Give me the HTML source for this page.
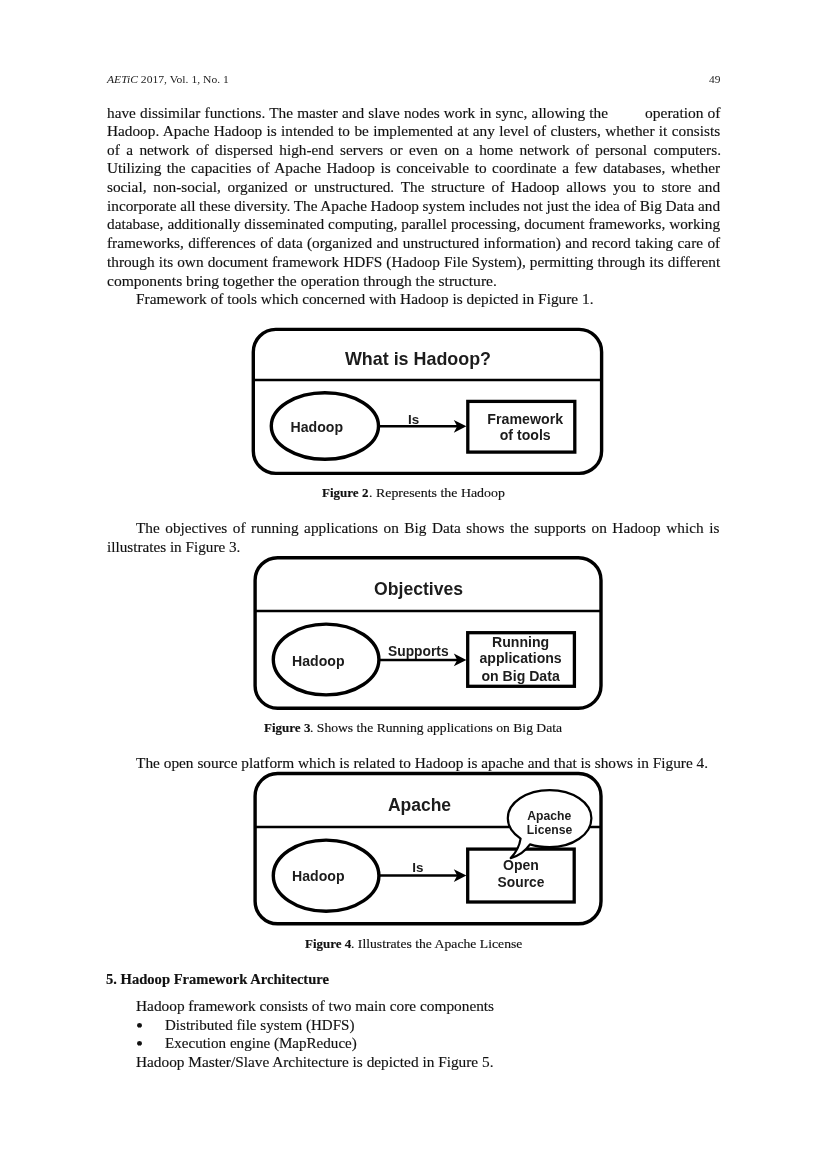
<!DOCTYPE html>
<html lang="en">
<head>
<meta charset="utf-8">
<title>AETiC 2017, Vol. 1, No. 1 - page 49</title>
<style>
html,body{margin:0;padding:0;background:#fff;}
body{width:827px;height:1169px;position:relative;overflow:hidden;font-family:"Liberation Serif","DejaVu Serif",serif;color:#111;}
header,main,p,h2,ul,li,figure,figcaption{margin:0;padding:0;list-style:none;font-weight:normal;font-size:inherit;display:block;position:static;}
.l{position:absolute;display:block;white-space:nowrap;-webkit-text-stroke:0.15px #111;line-height:20px;height:20px;transform-origin:0 0;}
#pg{position:absolute;left:0;top:0;width:827px;height:1169px;filter:blur(0.35px);}
svg{position:absolute;left:0;top:0;}
svg text{font-family:"Liberation Sans","DejaVu Sans",sans-serif;font-weight:bold;fill:#1c1c1c;}
</style>
</head>
<body>
<div id="pg">
<header>
<span class="l" style="left:106.8px;top:68.89px;font-size:11.3px;transform:scaleX(1.0274);-webkit-text-stroke:0;color:#222"><i>AETiC</i> 2017, Vol. 1, No. 1</span>
<span class="l" style="left:709.2px;top:68.89px;font-size:11.3px;transform:scaleX(1.0091);-webkit-text-stroke:0;color:#222">49</span>
</header>
<main>
<p>
<span class="l" style="left:106.5px;top:102.50px;font-size:15.4px;transform:scaleX(0.9930);word-spacing:0.39px">have dissimilar functions. The master and slave nodes work in sync, allowing the</span>
<span class="l" style="left:644.8px;top:102.50px;font-size:15.4px;transform:scaleX(1.0081)">operation of</span>
<span class="l" style="left:106.5px;top:121.10px;font-size:15.4px;transform:scaleX(0.9930);word-spacing:0.56px">Hadoop. Apache Hadoop is intended to be implemented at any level of clusters, whether it consists</span>
<span class="l" style="left:106.5px;top:139.80px;font-size:15.4px;transform:scaleX(0.9930);word-spacing:2.64px">of a network of dispersed high-end servers or even on a home network of personal computers.</span>
<span class="l" style="left:106.5px;top:158.40px;font-size:15.4px;transform:scaleX(0.9930);word-spacing:1.73px">Utilizing the capacities of Apache Hadoop is conceivable to coordinate a few databases, whether</span>
<span class="l" style="left:106.5px;top:177.10px;font-size:15.4px;transform:scaleX(0.9930);word-spacing:3.02px">social, non-social, organized or unstructured. The structure of Hadoop allows you to store and</span>
<span class="l" style="left:106.5px;top:195.80px;font-size:15.4px;transform:scaleX(0.9930);word-spacing:-0.20px">incorporate all these diversity. The Apache Hadoop system includes not just the idea of Big Data and</span>
<span class="l" style="left:106.5px;top:214.40px;font-size:15.4px;transform:scaleX(0.9930);word-spacing:0.14px">database, additionally disseminated computing, parallel processing, document frameworks, working</span>
<span class="l" style="left:106.5px;top:233.10px;font-size:15.4px;transform:scaleX(0.9930);word-spacing:0.54px">frameworks, differences of data (organized and unstructured information) and record taking care of</span>
<span class="l" style="left:106.5px;top:251.70px;font-size:15.4px;transform:scaleX(0.9930);word-spacing:0.29px">through its own document framework HDFS (Hadoop File System), permitting through its different</span>
<span class="l" style="left:106.5px;top:270.50px;font-size:15.4px;transform:scaleX(1.0113)">components bring together the operation through the structure.</span>
</p>
<p>
<span class="l" style="left:136.3px;top:289.20px;font-size:15.4px;transform:scaleX(0.9966)">Framework of tools which concerned with Hadoop is depicted in Figure 1.</span>
</p>
<figure>
<svg width="827" height="1169" viewBox="0 0 827 1169" role="img" aria-label="What is Hadoop?">
<g fill="none" stroke="#000" stroke-width="3.4">
<rect x="253.3" y="329.4" width="348.3" height="144" rx="22.5" ry="22.5"/>
<line x1="253.3" y1="380.1" x2="601.6" y2="380.1" stroke-width="2.5"/>
<ellipse cx="324.9" cy="426" rx="53.6" ry="33.3"/>
<rect x="467.8" y="401.4" width="107" height="50.7" stroke-width="3.3"/>
<line x1="378.5" y1="426.3" x2="458" y2="426.3" stroke-width="2.5"/>
</g>
<path d="M0 0 L-12.6 -6.4 L-9.2 0 L-12.6 6.4 Z" transform="translate(466.4 426.3)" fill="#000"/>
<text x="418" y="364.7" font-size="17.9" text-anchor="middle">What is Hadoop?</text>
<text x="316.8" y="432.1" font-size="14.1" text-anchor="middle">Hadoop</text>
<text x="413.6" y="423.8" font-size="13.4" text-anchor="middle">Is</text>
<text x="525.2" y="424" font-size="14.2" text-anchor="middle">Framework</text>
<text x="525.2" y="440" font-size="14.1" text-anchor="middle">of tools</text>
</svg>
<figcaption><span class="l" style="left:322.3px;top:483.11px;font-size:13.3px;transform:scaleX(0.9788)"><b>Figure 2</b></span><span class="l" style="left:368.5px;top:483.11px;font-size:13.3px;transform:scaleX(1.0455)">. Represents the Hadoop</span></figcaption>
</figure>
<p>
<span class="l" style="left:136.3px;top:517.80px;font-size:15.4px;transform:scaleX(0.9930);word-spacing:1.72px">The objectives of running applications on Big Data shows the supports on Hadoop which is</span>
<span class="l" style="left:106.5px;top:537.10px;font-size:15.4px;transform:scaleX(0.9875)">illustrates in Figure 3.</span>
</p>
<figure>
<svg width="827" height="1169" viewBox="0 0 827 1169" role="img" aria-label="Objectives">
<g fill="none" stroke="#000" stroke-width="3.4">
<rect x="255.1" y="557.7" width="345.9" height="150.5" rx="22.5" ry="22.5"/>
<line x1="255.1" y1="611" x2="601" y2="611" stroke-width="2.5"/>
<ellipse cx="326.1" cy="659.5" rx="52.8" ry="35.4"/>
<rect x="467.7" y="632.7" width="106.7" height="53.6" stroke-width="3.3"/>
<line x1="379" y1="659.9" x2="458" y2="659.9" stroke-width="2.5"/>
</g>
<path d="M0 0 L-12.6 -6.4 L-9.2 0 L-12.6 6.4 Z" transform="translate(466.4 659.9)" fill="#000"/>
<text x="418.6" y="595" font-size="17.6" text-anchor="middle">Objectives</text>
<text x="318.3" y="665.8" font-size="14.1" text-anchor="middle">Hadoop</text>
<text x="418.3" y="656" font-size="13.8" text-anchor="middle">Supports</text>
<text x="520.6" y="647" font-size="14.1" text-anchor="middle">Running</text>
<text x="520.6" y="663.4" font-size="14.1" text-anchor="middle">applications</text>
<text x="520.6" y="680.8" font-size="14.1" text-anchor="middle">on Big Data</text>
</svg>
<figcaption><span class="l" style="left:263.9px;top:718.31px;font-size:13.3px;transform:scaleX(0.9788)"><b>Figure 3</b></span><span class="l" style="left:310.1px;top:718.31px;font-size:13.3px;transform:scaleX(1.0249)">. Shows the Running applications on Big Data</span></figcaption>
</figure>
<p>
<span class="l" style="left:136.3px;top:752.80px;font-size:15.4px;transform:scaleX(0.9974)">The open source platform which is related to Hadoop is apache and that is shows in Figure 4.</span>
</p>
<figure>
<svg width="827" height="1169" viewBox="0 0 827 1169" role="img" aria-label="Apache">
<g fill="none" stroke="#000" stroke-width="3.4">
<rect x="255.1" y="773.5" width="345.9" height="150.3" rx="22.5" ry="22.5"/>
<line x1="255.1" y1="826.9" x2="601" y2="826.9" stroke-width="2.5"/>
<ellipse cx="326.1" cy="875.7" rx="52.8" ry="35.6"/>
<rect x="467.7" y="849.1" width="106.5" height="52.9" stroke-width="3.3"/>
<line x1="379" y1="875.6" x2="458" y2="875.6" stroke-width="2.5"/>
</g>
<path d="M0 0 L-12.6 -6.4 L-9.2 0 L-12.6 6.4 Z" transform="translate(466.4 875.6)" fill="#000"/>
<path d="M520.6 838.6 C511 832 507.8 825 507.8 818.2 C507.8 802.5 526.5 790.1 549.6 790.1 C572.7 790.1 591.4 802.5 591.4 818.2 C591.4 834.4 572.7 847.2 549.6 847.2 C542 847.2 535.5 846.2 530 844.4 C526 850 519 856 510.7 858.1 C516 852.5 519.5 846 520.6 838.6 Z" fill="#fff" stroke="#000" stroke-width="2.2" stroke-linejoin="round"/>
<text x="419.5" y="811" font-size="17.5" text-anchor="middle">Apache</text>
<text x="318.3" y="881.4" font-size="14.1" text-anchor="middle">Hadoop</text>
<text x="417.8" y="871.5" font-size="13.4" text-anchor="middle">Is</text>
<text x="521" y="869.8" font-size="14" text-anchor="middle">Open</text>
<text x="521" y="886.9" font-size="13.8" text-anchor="middle">Source</text>
<text x="549.2" y="820.1" font-size="12.2" text-anchor="middle">Apache</text>
<text x="549.5" y="834.4" font-size="12.2" text-anchor="middle">License</text>
</svg>
<figcaption><span class="l" style="left:304.9px;top:934.11px;font-size:13.3px;transform:scaleX(0.9746)"><b>Figure 4</b></span><span class="l" style="left:350.9px;top:934.11px;font-size:13.3px;transform:scaleX(1.0292)">. Illustrates the Apache License</span></figcaption>
</figure>
<h2>
<span class="l" style="left:106.0px;top:969.27px;font-size:14.6px;transform:scaleX(0.9991)"><b>5. Hadoop Framework Architecture</b></span>
</h2>
<p>
<span class="l" style="left:136.3px;top:995.80px;font-size:15.4px;transform:scaleX(0.9962)">Hadoop framework consists of two main core components</span>
</p>
<ul>
<li><span class="l" style="left:136.3px;top:1015.69px;font-size:19px;transform:scaleX(1.0516)">&bull;</span><span class="l" style="left:165.0px;top:1014.60px;font-size:15.4px;transform:scaleX(0.9780)">Distributed file system (HDFS)</span></li>
<li><span class="l" style="left:136.3px;top:1034.09px;font-size:19px;transform:scaleX(1.0516)">&bull;</span><span class="l" style="left:165.0px;top:1033.30px;font-size:15.4px;transform:scaleX(0.9799)">Execution engine (MapReduce)</span></li>
</ul>
<p>
<span class="l" style="left:136.3px;top:1052.00px;font-size:15.4px;transform:scaleX(0.9957)">Hadoop Master/Slave Architecture is depicted in Figure 5.</span>
</p>
</main>
</div>
</body>
</html>
